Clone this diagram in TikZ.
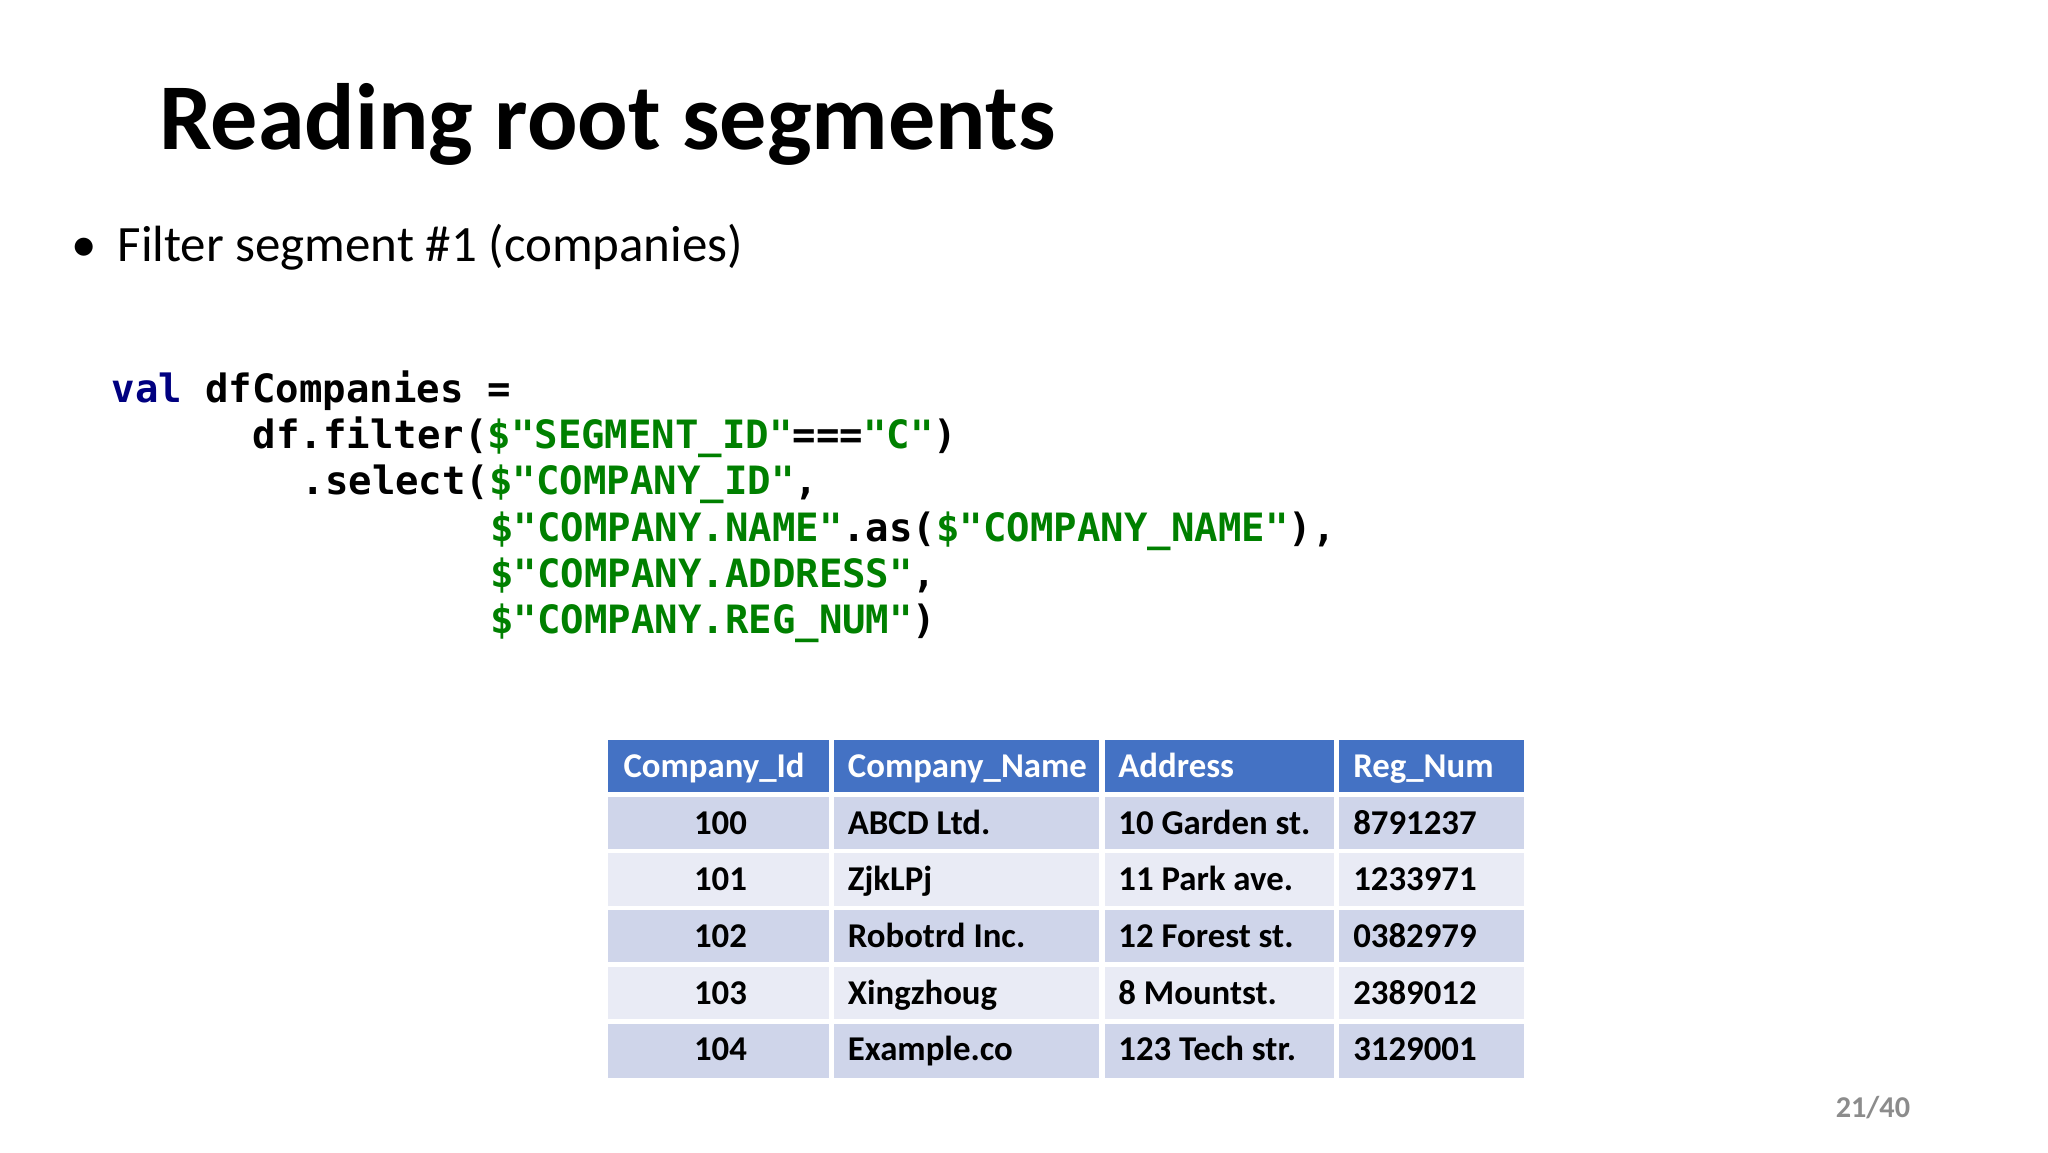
\documentclass[tikz,border=0pt]{standalone}
\usepackage{fontspec}
\setmainfont{Carlito}
\newfontfamily\codefont{DejaVu Sans Mono}
\definecolor{hdr}{HTML}{4472C4}
\definecolor{rowA}{HTML}{CFD5EA}
\definecolor{rowB}{HTML}{E9EBF5}
\definecolor{kw}{HTML}{000080}
\definecolor{str}{HTML}{008000}
\definecolor{pg}{HTML}{8C8C8C}
\begin{document}
\begin{tikzpicture}[x=0.013196cm,y=-0.013196cm,
  code/.style={anchor=base west,inner sep=0,font=\codefont\fontsize{11.1pt}{13pt}\selectfont\bfseries},
  cell/.style={anchor=base west,inner sep=0,font=\fontsize{9.9pt}{12pt}\selectfont\bfseries},
  hcell/.style={cell,text=white}]
\useasboundingbox (0,0) rectangle (1552,873);
\fill[white] (0,0) rectangle (1552,873);
\node[anchor=base west,inner sep=0,font=\fontsize{26.8pt}{32pt}\selectfont\bfseries] (title) at (120,113) {Reading root segments};
\node[anchor=base west,inner sep=0,font=\fontsize{14.5pt}{17pt}\selectfont] (bul) at (54,198) {•\hspace{0.4em}Filter segment \#1 (companies)};
\node[code] (c1) at (84,305) {\textcolor{kw}{val} dfCompanies =};
\node[code] (c2) at (191,340) {df.filter(\textcolor{str}{\$"SEGMENT\_ID"}===\textcolor{str}{"C"})};
\node[code] (c3) at (228,375) {.select(\textcolor{str}{\$"COMPANY\_ID"},};
\node[code] (c4) at (371,410) {\textcolor{str}{\$"COMPANY.NAME"}.as(\textcolor{str}{\$"COMPANY\_NAME"}),};
\node[code] (c5) at (371,445) {\textcolor{str}{\$"COMPANY.ADDRESS"},};
\node[code] (c6) at (371,480) {\textcolor{str}{\$"COMPANY.REG\_NUM"})};
% table
\fill[hdr] (461,561) rectangle (1155,601);
\foreach \y/\c in {603/rowA,646/rowB,689/rowA,732/rowB,775/rowA}
  \fill[\c] (461,\y) rectangle (1155,\y+42);
\foreach \y in {602,645,688,731,774}
  \draw[white,line width=1.25pt] (461,\y) -- (1155,\y);
\foreach \x in {630,835,1013}
  \draw[white,line width=1.5pt] (\x,561) -- (\x,817);
\node[hcell] (h1) at (472,589) {Company\_Id};
\node[hcell] (h2) at (642,589) {Company\_Name};
\node[hcell] (h3) at (847,589) {Address};
\node[hcell] (h4) at (1025,589) {Reg\_Num};
\foreach \i/\a/\b/\c/\d in {0/100/ABCD Ltd./10 Garden st./8791237,
  1/101/ZjkLPj/11 Park ave./1233971,
  2/102/Robotrd Inc./12 Forest st./0382979,
  3/103/Xingzhoug/8 Mountst./2389012,
  4/104/Example.co/123 Tech str./3129001}{
  \node[cell,anchor=base] (r\i a) at (546,632+43*\i) {\a};
  \node[cell] (r\i b) at (642,632+43*\i) {\b};
  \node[cell] (r\i c) at (847,632+43*\i) {\c};
  \node[cell] (r\i d) at (1025,632+43*\i) {\d};
}
\node[anchor=base east,inner sep=0,text=pg,font=\fontsize{8.6pt}{10pt}\selectfont\bfseries] (page) at (1448,847) {21/40};
\end{tikzpicture}
\end{document}
